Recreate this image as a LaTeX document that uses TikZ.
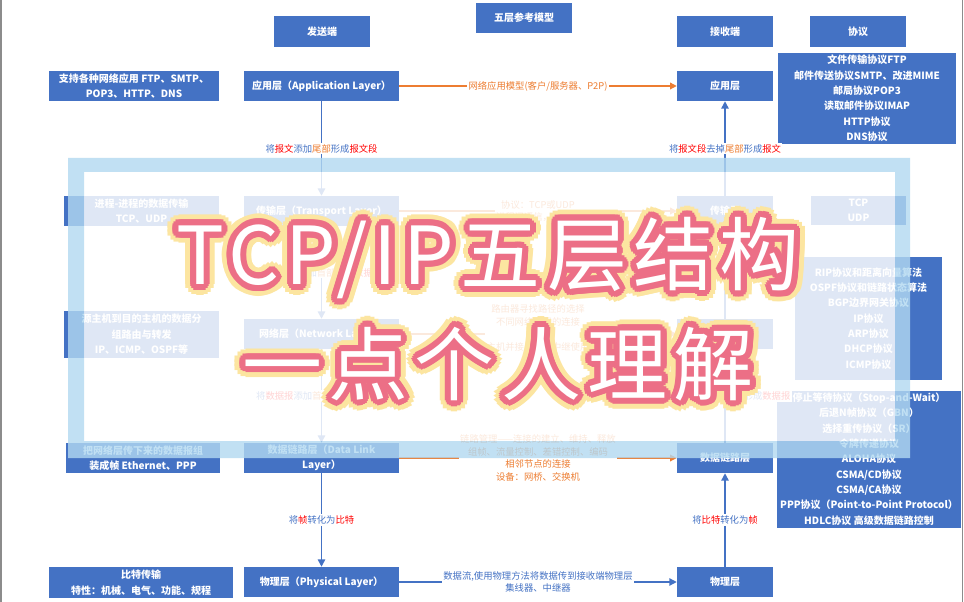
\documentclass[tikz,border=0pt]{standalone}
\usepackage{fontspec}
\setmainfont{Noto Sans CJK SC}
\usetikzlibrary{arrows.meta}

\definecolor{layerblue}{HTML}{4472C4}
\definecolor{peerorange}{HTML}{ED7D31}
\definecolor{ttlpink}{HTML}{EC6F86}
\definecolor{ttlglow}{HTML}{FCE5A0}
\definecolor{frameblue}{HTML}{B2D9F1}
\definecolor{edgegray}{HTML}{8C8C8C}

\newcommand{\rd}[1]{\textcolor{red}{#1}}
\newcommand{\og}[1]{\textcolor{peerorange}{#1}}

\begin{document}
\begin{tikzpicture}[
	x=0.75pt, y=-0.75pt,
	sz/.style 2 args={minimum width=#1*0.75pt, minimum height=#2*0.75pt},
	layer/.style={rectangle, fill=layerblue, text=white, inner sep=0pt, align=center,
		font=\fontsize{7.5}{11.5}\selectfont\bfseries},
	flow/.style={draw=layerblue, line width=1.1pt, -{Triangle[length=5.5pt,width=5.5pt]}},
	peer/.style={draw=peerorange, line width=0.9pt, -{Triangle[length=5pt,width=5pt]}},
	steplbl/.style={fill=white, text=layerblue, inner sep=1pt, font=\fontsize{7}{8}\selectfont},
	peerlbl/.style={fill=white, text=peerorange, inner sep=1pt, align=center, font=\fontsize{7}{9.4}\selectfont},
	ttl/.style={inner sep=0pt, font=\fontsize{60}{64}\selectfont\addfontfeature{LetterSpace=8}},
	]
\useasboundingbox (0,0) rectangle (964,602);
\fill[white] (0,0) rectangle (964,602);

% header
\node[layer, sz={96}{31}] (hdr-send) at (322,31.5) {发送端};
\node[layer, sz={96}{30}] (hdr-model) at (524,18) {五层参考模型};
\node[layer, sz={96}{31}] (hdr-recv) at (725,31.5) {接收端};
\node[layer, sz={96}{31}] (hdr-proto) at (858,31.5) {协议};

% application layer
\node[layer, sz={170}{30}] (app-desc) at (134,86) {支持各种网络应用 FTP、SMTP、\\POP3、HTTP、DNS};
\node[layer, sz={155}{30}] (snd-app) at (321.5,86) {应用层（Application Layer）};
\node[layer, sz={96}{30}] (rcv-app) at (725,86) {应用层};
\node[layer, sz={178}{91}] (app-proto) at (867,98.5) {文件传输协议FTP\\邮件传送协议SMTP、改进MIME\\邮局协议POP3\\读取邮件协议IMAP\\HTTP协议\\DNS协议};

% transport layer
\node[layer, sz={155}{30}] (tr-desc) at (141.5,211) {进程-进程的数据传输\\TCP、UDP};
\node[layer, sz={155}{30}] (snd-tr) at (321.5,211) {传输层（Transport Layer）};
\node[layer, sz={96}{30}] (rcv-tr) at (725,211) {传输层};
\node[layer, sz={95}{29}] (tr-proto) at (858.5,210.5) {TCP\\UDP};

% network layer
\node[layer, sz={155}{47}] (nw-desc) at (141.5,334.5) {源主机到目的主机的数据分\\组路由与转发\\IP、ICMP、OSPF等};
\node[layer, sz={155}{30}] (snd-nw) at (321.5,334) {网络层（Network Layer）};
\node[layer, sz={96}{30}] (rcv-nw) at (725,334) {网络层};
\node[layer, sz={147}{123}] (nw-proto) at (868.5,318.5) {RIP协议和距离向量算法\\OSPF协议和链路状态算法\\BGP边界网关协议\\IP协议\\ARP协议\\DHCP协议\\ICMP协议};

% data link layer
\node[layer, sz={154}{30}] (dl-desc) at (143,458) {把网络层传下来的数据报组\\装成帧 Ethernet、PPP};
\node[layer, sz={155}{30}] (snd-dl) at (321.5,458) {数据链路层（Data Link\\Layer）};
\node[layer, sz={96}{30}] (rcv-dl) at (725,458) {数据链路层};
\node[layer, sz={184}{137}] (dl-proto) at (869,459) {停止等待协议（Stop-and-Wait）\\后退N帧协议（GBN）\\选择重传协议（SR）\\令牌传递协议\\ALOHA协议\\CSMA/CD协议\\CSMA/CA协议\\PPP协议（Point-to-Point Protocol）\\HDLC协议 高级数据链路控制};

% physical layer
\node[layer, sz={184}{31}] (ph-desc) at (141,582.5) {比特传输\\特性：机械、电气、功能、规程};
\node[layer, sz={155}{30}] (snd-ph) at (321.5,582) {物理层（Physical Layer）};
\node[layer, sz={96}{30}] (rcv-ph) at (725,582) {物理层};

% sender, top down
\draw[flow] (snd-app) -- node[steplbl] {将\rd{报文}添加\og{尾部}形成\rd{报文段}} (snd-tr);
\draw[flow] (snd-tr) -- node[steplbl] {将\rd{报文段}添加\og{首部}形成\rd{数据报}} (snd-nw);
\draw[flow] (snd-nw) -- node[steplbl] {将\rd{数据报}添加\og{首部和尾部}形成\rd{帧}} (snd-dl);
\draw[flow] (snd-dl) -- node[steplbl] {将\rd{帧}转化为\rd{比特}} (snd-ph);

% receiver, bottom up
\draw[flow] (rcv-ph) -- node[steplbl] {将\rd{比特}转化为\rd{帧}} (rcv-dl);
\draw[flow] (rcv-dl) -- node[steplbl] {将\rd{帧}去掉\og{首部和尾部}形成\rd{数据报}} (rcv-nw);
\draw[flow] (rcv-nw) -- node[steplbl] {将\rd{数据报}去掉\og{首部}形成\rd{报文段}} (rcv-tr);
\draw[flow] (rcv-tr) -- node[steplbl] {将\rd{报文段}去掉\og{尾部}形成\rd{报文}} (rcv-app);

% peer to peer
\draw[peer] (snd-app) -- node[peerlbl] {网络应用模型(客户/服务器、P2P)} (rcv-app);
\draw[peer] (snd-tr) -- node[peerlbl] {协议：TCP或UDP\\进程间通信，端到端} (rcv-tr);
\draw[peer] (snd-nw) -- node[peerlbl] {路由器寻找路径的选择\\不同网络之间的连接\\互联\\主机并接入网络中继使用\\路由器} (rcv-nw);
\draw[peer] (snd-dl) -- node[peerlbl] {链路管理——连接的建立、维持、释放\\组帧、流量控制、差错控制、编码\\相邻节点的连接\\设备：网桥、交换机} (rcv-dl);
\draw[flow, line width=0.9pt] (snd-ph) -- node[peerlbl, text=layerblue] {数据流,使用物理方法将数据传到接收端物理层\\集线器、中继器} (rcv-ph);

% page edges
\draw[edgegray, line width=1.5pt] (1,0) -- (1,602);
\draw[edgegray, line width=1.2pt] (962.5,0) -- (962.5,602);

% cover panel
\fill[white, opacity=0.83] (84,172) rectangle (895,441);
\fill[frameblue, opacity=0.8, even odd rule] (68,158) rectangle (910,458) (84,172) rectangle (895,441);

% title
\foreach \a in {0,22.5,...,337.5} {
	\node[ttl, text=ttlglow, shift={(\a:11)}] (glow-a-\a) at (488,258) {TCP/IP五层结构};
	\node[ttl, text=ttlglow, shift={(\a:11)}] (glow-b-\a) at (498,364) {一点个人理解};
}
\foreach \a in {0,22.5,...,337.5} {
	\node[ttl, text=ttlpink, shift={(\a:6)}] (rim-a-\a) at (488,258) {TCP/IP五层结构};
	\node[ttl, text=ttlpink, shift={(\a:6)}] (rim-b-\a) at (498,364) {一点个人理解};
}
\node[ttl, text=white] (ttl-top) at (488,258) {TCP/IP五层结构};
\node[ttl, text=white] (ttl-bottom) at (498,364) {一点个人理解};
\end{tikzpicture}
\end{document}
